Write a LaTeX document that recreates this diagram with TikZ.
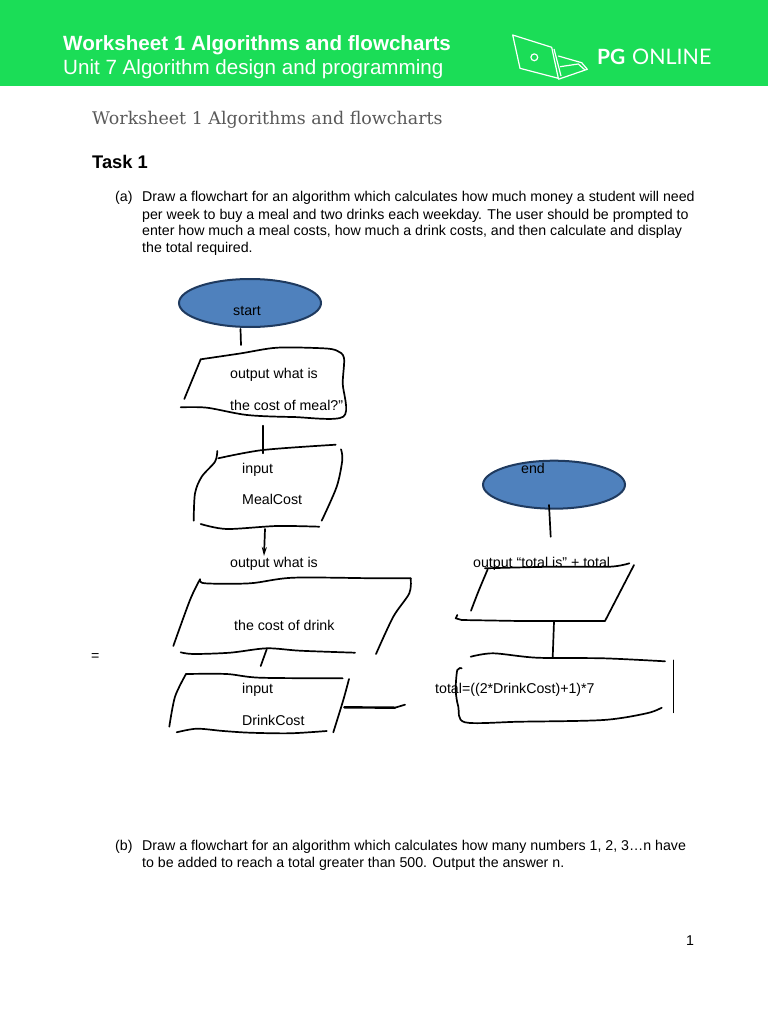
\documentclass[tikz,border=0pt]{standalone}
\usepackage{fontspec}
\setmainfont{Liberation Sans}
\newfontfamily\titlefont{DejaVu Serif}
\newfontfamily\logofont{Lato}
\usetikzlibrary{shapes.geometric,arrows.meta}
\definecolor{pggreen}{HTML}{1BDD57}
\definecolor{bubblefill}{HTML}{4F81BD}
\definecolor{bubbleline}{HTML}{1F3A5F}
\tikzset{
  txt/.style={anchor=base west, inner sep=0pt, font=\fontsize{14.2}{16}\selectfont},
  ink/.style={line width=1.7pt, black, line cap=round, line join=round},
  bubble/.style={ellipse, draw=bubbleline, line width=2pt, fill=bubblefill, minimum width=142pt, minimum height=48pt, inner sep=0pt},
  logoline/.style={white, line width=1.2pt, line join=round}
}
\begin{document}
\begin{tikzpicture}[x=1pt,y=-1pt]
  \useasboundingbox (0,0) rectangle (768,1024);
  \fill[pggreen] (0,0) rectangle (768,86);

  % header
  \node[txt, font=\fontsize{20.6}{22}\selectfont\bfseries, text=white] (headone) at (63,51) {Worksheet 1 Algorithms and flowcharts};
  \node[txt, font=\fontsize{20.6}{22}\selectfont, text=white] (headtwo) at (63,75) {Unit 7 Algorithm design and programming};
  \draw[logoline] (512.7,35) -- (551.7,47.3) -- (558.3,78.3) -- (520,68.3) -- cycle;
  \draw[logoline] (534.3,57.3) circle (3.4pt);
  \draw[logoline] (554,49) -- (561,76);
  \draw[logoline] (558.3,56) -- (581.7,62.7) -- (587.3,69.3) -- (558.3,79.3);
  \draw[logoline] (560,66.7) -- (578.3,64) -- (585,70);
  \node[txt, font=\fontsize{21}{22}\selectfont\logofont\bfseries, text=white] (logopg) at (597,64.5) {PG};
  \node[txt, font=\fontsize{21.4}{22}\selectfont\logofont, text=white] (logoname) at (632,64.5) {ONLINE};

  % page text
  \node[txt, font=\fontsize{17.45}{20}\selectfont\titlefont, text=black!65] (title) at (92,125) {Worksheet 1 Algorithms and flowcharts};
  \node[txt, font=\fontsize{18.3}{20}\selectfont\bfseries] (task) at (92,169) {Task 1};
  \node[txt] (parta) at (115,202) {(a)};
  \node[txt] (partaone) at (142,202) {Draw a flowchart for an algorithm which calculates how much money a student will need};
  \node[txt] (partatwo) at (142,219) {per week to buy a meal and two drinks each weekday. The user should be prompted to};
  \node[txt] (partathree) at (142,235.5) {enter how much a meal costs, how much a drink costs, and then calculate and display};
  \node[txt] (partafour) at (142,252) {the total required.};
  \node[txt] (partb) at (115,850) {(b)};
  \node[txt] (partbone) at (142,850) {Draw a flowchart for an algorithm which calculates how many numbers 1, 2, 3\ldots n have};
  \node[txt] (partbtwo) at (142,867) {to be added to reach a total greater than 500. Output the answer n.};
  \node[txt] (pagenum) at (686,945) {1};
  \node[txt] (stray) at (91,660) {=};

  % ovals
  \node[bubble] (startoval) at (250,303) {};
  \node[bubble] (endoval) at (554,484.7) {};

  % output meal cost
  \draw[ink] plot[smooth, tension=0.5] coordinates {(200.7,359.3) (240,353.5) (277,347.7) (323,348.3) (337,350.7) (344,358) (342.7,383) (343.3,416.7) (293,417) (247,415) (207,407.7) (180.7,407.3)};
  \draw[ink] (200.7,359.3) -- (184.3,399);

  % input meal cost
  \draw[ink] plot[smooth, tension=0.5] coordinates {(218.3,458.3) (263,450) (335.7,444.7)};
  \draw[ink] plot[smooth, tension=0.5] coordinates {(217.3,451) (215,461.7) (201.7,476.7) (195,493.3) (193.7,520.7)};
  \draw[ink] plot[smooth, tension=0.5] coordinates {(341,449.3) (342.3,460) (336.7,486.7) (321.7,520.7)};
  \draw[ink] plot[smooth, tension=0.5] coordinates {(200.7,524) (226.7,529) (276.7,526) (319.3,526.7)};

  % output drink cost
  \draw[ink] plot[smooth, tension=0.5] coordinates {(200,579.3) (205,583.3) (250,583.3) (293.3,577.7) (376.7,578.3) (410.7,578.3)};
  \draw[ink] plot[smooth, tension=0.5] coordinates {(200,579.3) (190,600) (173.3,646)};
  \draw[ink] plot[smooth, tension=0.5] coordinates {(410.7,578.3) (409.3,593.3) (393.3,616.7) (376,654)};
  \draw[ink] plot[smooth, tension=0.5] coordinates {(180.7,652.3) (193.3,654) (230,652.7) (266.7,648.3) (300,650.7) (355,652.7)};

  % input drink cost
  \draw[ink] plot[smooth, tension=0.5] coordinates {(186,674) (226.7,674) (260,677.7) (342.7,678.3)};
  \draw[ink] plot[smooth, tension=0.5] coordinates {(186,674) (175,696.7) (169.3,726.7)};
  \draw[ink] plot[smooth, tension=0.5] coordinates {(349,679) (343.3,700) (333.3,732.3)};
  \draw[ink] plot[smooth, tension=0.5] coordinates {(176.7,732.3) (196.7,728.7) (223.3,731) (250,732.7) (290,733.3) (326.7,731)};

  % output total
  \draw[ink] plot[smooth, tension=0.5] coordinates {(485,568.3) (553,566.7) (610,566.7) (629.3,563.3)};
  \draw[ink] plot[smooth, tension=0.5] coordinates {(487.7,569.3) (478.3,591.7) (471,610.7)};
  \draw[ink] (634,565) -- (605,621) -- (520,621) -- (461.7,620) -- (455.7,618.3) -- (457.3,615);

  % total box
  \draw[ink] plot[smooth, tension=0.5] coordinates {(470.7,656.7) (493.3,653.3) (536.7,657.7) (603.3,658.3) (665,661.3)};
  \draw[ink, line width=1pt] (673.3,660) -- (673.3,712.7);
  \draw[ink] plot[smooth, tension=0.5] coordinates {(461.7,668.3) (457.3,670) (455.7,690) (458.3,706.7) (465,722.3) (520,721.7) (603.3,720) (646.7,713.3) (661.7,707.7)};

  % free ends of the connectors
  \coordinate (startdown) at (240.5,329);
  \coordinate (outmealtop) at (241,345);
  \coordinate (outmealdown) at (263.3,425.7);
  \coordinate (inmealtop) at (263.3,453.3);
  \coordinate (inmealdown) at (265,529);
  \coordinate (outdrinktop) at (264,556);
  \coordinate (outdrinkdown) at (266.7,649.3);
  \coordinate (indrinktop) at (260.7,666);
  \coordinate (indrinkout) at (344.3,707.3);
  \coordinate (indrinkmid) at (395,707.7);
  \coordinate (indrinkend) at (405,704.7);
  \coordinate (endup) at (549,505);
  \coordinate (outtotaltop) at (550.7,536.7);
  \coordinate (outtotaldown) at (554,621.7);
  \coordinate (totaltop) at (552.7,657.3);

  \draw[ink] (startdown) -- (outmealtop);
  \draw[ink] (outmealdown) -- (inmealtop);
  \draw[ink, -{Stealth[length=9pt,width=5pt]}] (inmealdown) -- (outdrinktop);
  \draw[ink] (outdrinkdown) -- (indrinktop);
  \draw[ink, line width=2.4pt] (indrinkout) -- (indrinkmid);
  \draw[ink] (indrinkmid) -- (indrinkend);
  \draw[ink] (endup) -- (outtotaltop);
  \draw[ink] (outtotaldown) -- (totaltop);

  % flowchart text
  \node[txt] (starttext) at (233,315) {start};
  \node[txt] (outmealone) at (230,378) {output what is};
  \node[txt] (outmealtwo) at (230,410) {the cost of meal?”};
  \node[txt] (inmealone) at (242,473) {input};
  \node[txt] (inmealtwo) at (242,504) {MealCost};
  \node[txt] (outdrinkone) at (230,567) {output what is};
  \node[txt] (outdrinktwo) at (234,630) {the cost of drink};
  \node[txt] (indrinkone) at (242,693) {input};
  \node[txt] (indrinktwo) at (242,725) {DrinkCost};
  \node[txt] (endtext) at (521,473) {end};
  \node[txt] (outtotal) at (473,567) {output “total is” + total};
  \node[txt] (totaltext) at (435,693) {total=((2*DrinkCost)+1)*7};
\end{tikzpicture}
\end{document}
